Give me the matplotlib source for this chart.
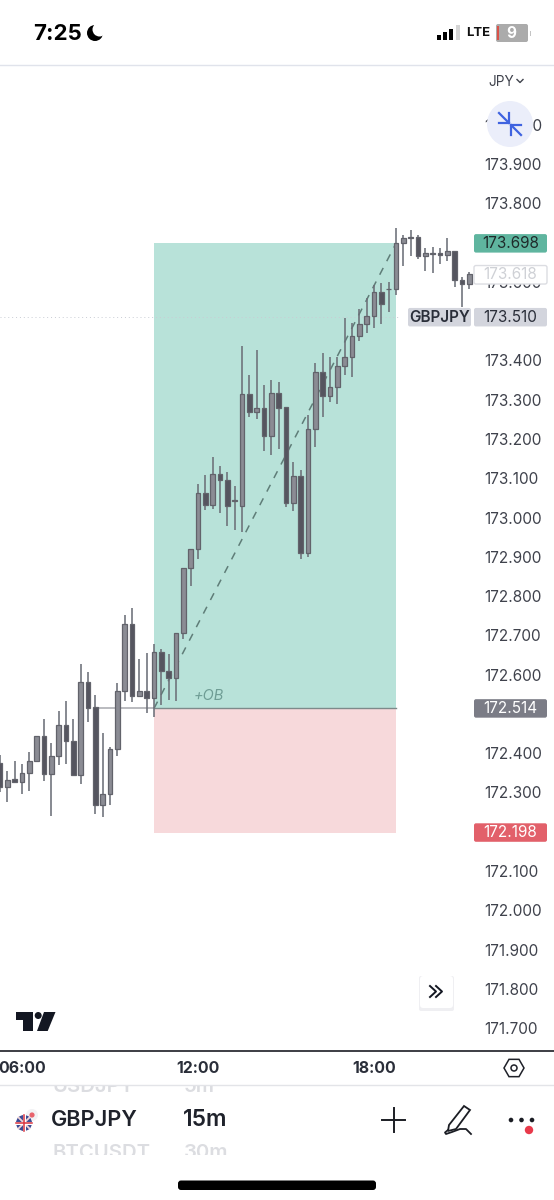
import matplotlib
matplotlib.use("Agg")
import matplotlib.pyplot as plt
from matplotlib.patches import Rectangle, FancyBboxPatch, Circle, Polygon, RegularPolygon

# ---------- data ----------
candle_index = list(range(-27, 38))
opens = [172.375,172.314,172.334,172.327,172.350,172.380,172.444,172.347,172.393,172.472,172.431,172.344,172.581,172.518,172.268,172.296,172.411,172.558,172.729,172.546,172.558,172.541,172.658,172.609,172.591,172.706,172.871,172.920,
         173.062,173.032,173.111,173.095,173.042,173.029,173.314,173.269,173.279,173.208,173.317,173.281,173.037,173.106,172.910,173.225,
         173.370,173.309,173.332,173.386,173.409,173.462,173.493,173.513,173.574,173.582,173.582,173.699,173.712,173.714,173.666,173.673,173.673,173.668,173.678,173.605,173.594]
closes = [172.314,172.332,172.327,172.350,172.380,172.444,172.347,172.393,172.472,172.431,172.344,172.581,172.515,172.268,172.296,172.411,172.558,172.729,172.546,172.558,172.541,172.658,172.609,172.591,172.706,172.871,172.920,173.062,
          173.032,173.111,173.095,173.029,173.045,173.314,173.269,173.279,173.208,173.317,173.279,173.037,173.106,172.910,173.225,173.370,
          173.309,173.332,173.386,173.409,173.462,173.493,173.513,173.574,173.544,173.582,173.699,173.712,173.714,173.666,173.673,173.672,173.668,173.678,173.605,173.594,173.620]
highs = [172.395,172.354,172.380,172.372,172.403,172.423,172.487,172.426,172.507,172.533,172.487,172.627,172.607,172.548,172.451,172.416,172.579,172.752,172.770,172.640,172.655,172.678,172.665,172.653,172.706,172.871,172.920,173.085,
         173.108,173.155,173.131,173.116,173.080,173.437,173.362,173.426,173.337,173.350,173.345,173.281,173.141,173.121,173.261,173.393,
         173.419,173.409,173.409,173.508,173.495,173.531,173.559,173.592,173.597,173.600,173.737,173.719,173.732,173.719,173.686,173.689,173.686,173.712,173.678,173.612,173.625]
lows = [172.301,172.276,172.327,172.296,172.304,172.380,172.329,172.240,172.370,172.372,172.344,172.322,172.479,172.245,172.238,172.268,172.393,172.533,172.530,172.543,172.502,172.492,172.523,172.535,172.533,172.691,172.826,172.894,
        173.019,173.022,173.012,172.978,172.968,172.963,173.256,173.251,173.169,173.159,173.174,173.027,173.017,172.894,172.900,173.180,
        173.256,173.294,173.289,173.363,173.358,173.449,173.470,173.482,173.493,173.523,173.566,173.640,173.666,173.658,173.628,173.622,173.645,173.653,173.587,173.536,173.582]

price_ticks = [174.0,173.9,173.8,173.6,173.4,173.3,173.2,173.1,173.0,172.9,172.8,172.7,172.6,
               172.4,172.3,172.1,172.0,171.9,171.8,171.7]
time_ticks = [-24, 0, 24]
time_labels = ["06:00", "12:00", "18:00"]

trade_start, trade_end = -6, 27
entry_price, target_price, stop_price = 172.514, 173.698, 172.198
last_price, prev_price = 173.510, 173.618
symbol = "GBPJPY"
interval = "15m"

# ---------- figure ----------
plt.rcParams['font.family'] = ['Inter', 'DejaVu Sans']
W, H = 554, 1200
fig = plt.figure(figsize=(W/100, H/100), dpi=100, facecolor='white')
top_px, bot_px, right_px = 64, 1050, 475
ax = fig.add_axes([0, 1-bot_px/H, right_px/W, (bot_px-top_px)/H])
ax.set_xlim(-27.0, 37.77)
ax.set_ylim(171.6444, 174.1546)
for s in ax.spines.values():
    s.set_visible(False)
ax.yaxis.tick_right()
ax.set_yticks(price_ticks)
ax.set_yticklabels([f"{p:.3f}" for p in price_ticks], fontsize=11, color='#3f424c')
ax.tick_params(axis='y', length=0, pad=6.5)
ax.set_xticks(time_ticks)
ax.set_xticklabels(time_labels, fontsize=11.4, fontweight='bold', color='#2a2e39')
ax.tick_params(axis='x', length=0, pad=8)

# trade box
ax.add_patch(Rectangle((trade_start, entry_price), trade_end-trade_start, target_price-entry_price,
                       fc='#b8e2d9', ec='none', zorder=1))
ax.add_patch(Rectangle((trade_start, stop_price), trade_end-trade_start, entry_price-stop_price,
                       fc='#f7d9db', ec='none', zorder=1))
ax.plot([trade_start, trade_end], [entry_price, entry_price], color='#7d8a8a', lw=1.0, zorder=1.5)
ax.plot([-14, trade_start], [entry_price, entry_price], color='#b4b5ba', lw=1.3, zorder=1.5)
ax.plot([trade_start, trade_end], [entry_price, target_price], color='#5f7d78', lw=1.1,
        dashes=(5, 5), zorder=1.6)
ax.plot([-27, trade_end+0.3], [last_price, last_price], color='#c9ccd4', lw=0.7, dashes=(1, 3), zorder=1.2)
ax.text(1.5, 172.545, "+OB", color='#6f9d95', fontsize=10.5, style='italic', ha='center', va='center', zorder=2)

# candles
LIGHT, DARK, EDGE, WICK = '#8b8c94', '#55555f', '#62636b', '#6c6f78'
ax.vlines(candle_index, lows, highs, color=WICK, lw=1.15, zorder=3)
for i, o, c in zip(candle_index, opens, closes):
    ax.bar(i, abs(c-o), bottom=min(o, c), width=0.66, color=LIGHT if c >= o else DARK,
           edgecolor=EDGE, linewidth=0.9, zorder=4)

# ---------- UI overlay, pixel coordinates ----------
ui = fig.add_axes([0, 0, 1, 1], zorder=10, facecolor='none')
ui.set_xlim(0, W); ui.set_ylim(H, 0); ui.axis('off')

def py(price):
    return H - ax.transData.transform((0, price))[1]

def tag(x0, x1, price, fc, tc, text, ec='none', weight='normal'):
    y = py(price)
    h = 18.5
    ui.add_patch(FancyBboxPatch((x0+2, y-h/2+2), x1-x0-4, h-4, boxstyle='round,pad=2',
                                fc=fc, ec=ec, lw=1))
    ui.text((x0+x1)/2, y, text, color=tc, fontsize=11, ha='center', va='center', fontweight=weight)

tag(474, 547, target_price, '#5fb59f', '#1f2a2a', f"{target_price:.3f}")
tag(474, 547, prev_price, 'white', '#cfd1d6', f"{prev_price:.3f}", ec='#dcdde2')
tag(408, 471, last_price, '#d3d5dd', '#2a2e39', symbol, weight='semibold')
tag(474, 547, last_price, '#d3d5dd', '#2a2e39', f"{last_price:.3f}")
tag(474, 547, entry_price, '#7b7c86', 'white', f"{entry_price:.3f}")
tag(474, 547, stop_price, '#e2606a', 'white', f"{stop_price:.3f}")

# status bar
ui.text(33, 33.5, "7:25", fontsize=16, fontweight='bold', color='black', va='center', ha='left')
ui.add_patch(Circle((95, 33), 8, fc='black', ec='none'))
ui.add_patch(Circle((99.5, 29.5), 7, fc='white', ec='none'))
for x, h_, c in [(437, 5, 'black'), (443, 8, 'black'), (449, 11, 'black'), (456, 15, '#d5d5d5')]:
    ui.add_patch(Rectangle((x, 40-h_), 4.3, h_, fc=c, ec='none'))
ui.text(466, 33.5, "LTE", fontsize=9.4, fontweight='bold', color='#111111', va='center', ha='left')
ui.add_patch(FancyBboxPatch((498, 26), 28, 14, boxstyle='round,pad=2', fc='#ababab', ec='none'))
ui.add_patch(Rectangle((496.5, 26), 2.2, 14, fc='#d9534a', ec='none'))
ui.add_patch(Rectangle((530, 31), 1.2, 5, fc='#c4c4c4', ec='none'))
ui.text(511.5, 33.5, "9", fontsize=11, fontweight='bold', color='white', va='center', ha='center')
ui.plot([0, W], [64.5, 64.5], color='#e0e3eb', lw=1)

# currency and button
ui.text(488, 81.5, "JPY", fontsize=9.8, color='#3f424c', va='center', ha='left')
ui.plot([517, 520, 523], [79.5, 82.5, 79.5], color='#3f424c', lw=1)
ui.add_patch(Circle((510, 124), 23, fc='#ebeefa', ec='none'))
BLUE = '#3f63e0'
ui.plot([499, 509], [113, 123], color=BLUE, lw=1.6)
ui.plot([499, 509, 509], [123, 123, 113], color=BLUE, lw=1.6)
ui.plot([521, 511], [135, 125], color=BLUE, lw=1.6)
ui.plot([521, 511, 511], [125, 125, 135], color=BLUE, lw=1.6)

# logo
LOGO = '#131722'
ui.add_patch(Polygon([(16, 1012), (32.5, 1012), (32.5, 1031), (23, 1031), (23, 1020), (16, 1020)], fc=LOGO, ec='none'))
ui.add_patch(Circle((38.2, 1015.5), 3.5, fc=LOGO, ec='none'))
ui.add_patch(Polygon([(44, 1012), (55.5, 1012), (47.7, 1031), (37, 1031)], fc=LOGO, ec='none'))

# scroll button
ui.add_patch(FancyBboxPatch((421, 978), 31, 31, boxstyle='round,pad=2', fc='#ececef', ec='none', alpha=.8))
ui.add_patch(FancyBboxPatch((423, 979), 27, 26, boxstyle='round,pad=3', fc='white', ec='none'))
ui.plot([430, 436, 430], [986, 991.5, 997], color='#131722', lw=1.4)
ui.plot([436, 442, 436], [986, 991.5, 997], color='#131722', lw=1.4)

# axis lines
ui.plot([0, W], [1050.7, 1050.7], color='#1b1d24', lw=1.2)
ui.plot([0, W], [1085, 1085], color='#e3e4e8', lw=1)
ui.add_patch(RegularPolygon((514, 1068), 6, radius=10, orientation=0.5236, fc='none', ec='#1f2129', lw=1.1))
ui.add_patch(Circle((514, 1068), 3, fc='none', ec='#1f2129', lw=1.1))

# bottom toolbar
clip_top = Rectangle((0, 1086), W, 69, transform=ui.transData)
for x, y, s in [(52, 1087, "USDJPY"), (184, 1087, "5m"), (52, 1153, "BTCUSDT"), (184, 1153, "30m")]:
    t = ui.text(x, y, s, fontsize=14.6, fontweight='semibold', color='#dcdde1', va='center', ha='left')
    t.set_clip_path(clip_top)
    t.set_clip_on(True)
ui.text(51, 1120, symbol, fontsize=15.6, fontweight='semibold', color='#1f222b', va='center', ha='left')
ui.text(183, 1120, interval, fontsize=16.4, fontweight='semibold', color='#1f222b', va='center', ha='left')

# flag
ui.add_patch(Circle((32, 1115), 6, fc='#f2f2f4', ec='none'))
ui.add_patch(Circle((32, 1115), 2.6, fc='#e8636c', ec='none'))
ui.add_patch(Circle((24, 1123), 8, fc='#3b4a92', ec='none'))
ui.plot([18.5, 29.5], [1117.5, 1128.5], color='#f0d5d8', lw=1.3)
ui.plot([18.5, 29.5], [1128.5, 1117.5], color='#f0d5d8', lw=1.3)
ui.plot([16, 32], [1123, 1123], color='white', lw=2.2)
ui.plot([24, 24], [1115, 1131], color='white', lw=2.2)
ui.plot([16, 32], [1123, 1123], color='#d8343f', lw=1.1)
ui.plot([24, 24], [1115, 1131], color='#d8343f', lw=1.1)

# plus, pen, dots
ui.plot([381.5, 405], [1120, 1120], color='#1b1d24', lw=1.4)
ui.plot([393.5, 393.5], [1108, 1132], color='#1b1d24', lw=1.4)
ui.add_patch(Polygon([(449, 1125), (464, 1106), (470, 1110), (456, 1129), (448, 1131)], fc='none', ec='#1b1d24', lw=1.3))
ui.plot([448, 445, 446, 452, 460, 466, 471], [1130, 1132.5, 1134, 1132, 1129, 1129, 1134], color='#1b1d24', lw=1.3)
for x in (511, 521.5, 532):
    ui.add_patch(Circle((x, 1120), 2.3, fc='#1b1d24', ec='none'))
ui.add_patch(Circle((529, 1130), 4.2, fc='#e8394a', ec='none'))

# home bar
ui.add_patch(FancyBboxPatch((181, 1183.5), 192, 3.5, boxstyle='round,pad=3', fc='black', ec='none'))

fig.savefig('out.png', dpi=100)
